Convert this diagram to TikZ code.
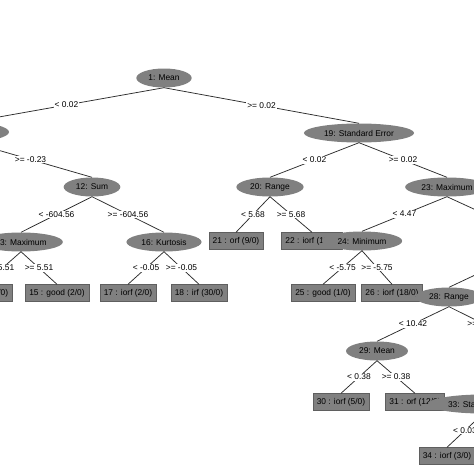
\documentclass[tikz,border=0pt]{standalone}
\usepackage{fontspec}
\setmainfont{Liberation Sans}
\usepackage{xcolor}
\usepackage{tikz}
\usetikzlibrary{shapes.geometric}
\definecolor{G0}{RGB}{128,128,128}
\definecolor{G1}{RGB}{ 95, 95, 95}
\definecolor{G2}{RGB}{ 45, 45, 45}

\begin{document}
\begin{tikzpicture}[x=1pt, y=-1pt,
    every node/.style={font=\fontsize{8.4}{10}\selectfont, text=black},
    split/.style={ellipse, fill=G0, inner xsep=4pt, inner ysep=0pt, minimum height=19pt},
    leaf/.style={rectangle, fill=G0, draw=G1, inner xsep=4pt, inner ysep=0pt, minimum height=17pt},
    branch/.style={G2, line width=0.75pt},
    cond/.style={fill=white, inner sep=1pt}]

    %% Frame of the crop
    \useasboundingbox (0,0) rectangle (474,474);
    \fill[white] (0,0) rectangle (474,474);
    \clip (0,0) rectangle (474,474);

    %% --- Split nodes and leaves, in tree order ---
    \node[split] (N1)  at (164,78)  {1: Mean};
    \node[split, minimum width=80pt] (N2) at (-31,132) {};
    \node[split] (N12) at (92,187)  {12: Sum};
    \node[split] (N13) at (21,242)  {13: Maximum};
    \node[leaf]  (N14) at (-16,293) {14 : iorf (7/0)};
    \node[leaf]  (N15) at (57,293)  {15 : good (2/0)};
    \node[split] (N16) at (164,242) {16: Kurtosis};
    \node[leaf]  (N17) at (128,293) {17 : iorf (2/0)};
    \node[leaf]  (N18) at (199,293) {18 : irf (30/0)};
    \node[split] (N19) at (359,133) {19: Standard Error};
    \node[split] (N20) at (270,187) {20: Range};
    \node[leaf]  (N21) at (236,241) {21 : orf (9/0)};
    \node[leaf]  (N22) at (312,241) {22 : iorf (12/0)};
    \node[split] (N23) at (447,187) {23: Maximum};
    \node[split] (N24) at (362,241) {24: Minimum};
    \node[leaf]  (N25) at (323,293) {25 : good (1/0)};
    \node[leaf]  (N26) at (392,293) {26 : iorf (18/0)};
    \node[split] (N28) at (449,297) {28: Range};
    \node[split] (N29) at (377,351) {29: Mean};
    \node[leaf]  (N30) at (341,402) {30 : iorf (5/0)};
    \node[leaf]  (N31) at (415,402) {31 : orf (12/0)};
    \node[split] (N33) at (483,404) {33: Standard Error};
    \node[leaf]  (N34) at (447,456) {34 : iorf (3/0)};

    %% Children that lie outside the crop
    \coordinate (T27) at (525,232.5);
    \coordinate (B27) at (525,251.5);
    \coordinate (T32) at (519,341.5);
    \coordinate (B32) at (519,360.5);

    %% --- Branches with their conditions ---
    \draw[branch] (N1.south)  -- node[cond] {< 0.02} (N2.north);
    \draw[branch] (N1.south)  -- node[cond] {>= 0.02} (N19.north);
    \draw[branch] (N2.south)  -- node[cond] {>= -0.23} (N12.north);
    \draw[branch] (N12.south) -- node[cond] {< -604.56} (N13.north);
    \draw[branch] (N12.south) -- node[cond] {>= -604.56} (N16.north);
    \draw[branch] (N13.south) -- node[cond] {< 5.51} (N14.north);
    \draw[branch] (N13.south) -- node[cond] {>= 5.51} (N15.north);
    \draw[branch] (N16.south) -- node[cond] {< -0.05} (N17.north);
    \draw[branch] (N16.south) -- node[cond] {>= -0.05} (N18.north);
    \draw[branch] (N19.south) -- node[cond] {< 0.02} (N20.north);
    \draw[branch] (N19.south) -- node[cond] {>= 0.02} (N23.north);
    \draw[branch] (N20.south) -- node[cond] {< 5.68} (N21.north);
    \draw[branch] (N20.south) -- node[cond] {>= 5.68} (N22.north);
    \draw[branch] (N23.south) -- node[cond] {< 4.47} (N24.north);
    \draw[branch] (N23.south) -- (T27);
    \draw[branch] (N24.south) -- node[cond] {< -5.75} (N25.north);
    \draw[branch] (N24.south) -- node[cond] {>= -5.75} (N26.north);
    \draw[branch] (B27) -- (N28.north);
    \draw[branch] (N28.south) -- node[cond] {< 10.42} (N29.north);
    \draw[branch] (N28.south) -- node[cond] {>= 10.42} (T32);
    \draw[branch] (N29.south) -- node[cond] {< 0.38} (N30.north);
    \draw[branch] (N29.south) -- node[cond] {>= 0.38} (N31.north);
    \draw[branch] (B32) -- (N33.north);
    \draw[branch] (N33.south) -- node[cond] {< 0.03} (N34.north);

\end{tikzpicture}
\end{document}
